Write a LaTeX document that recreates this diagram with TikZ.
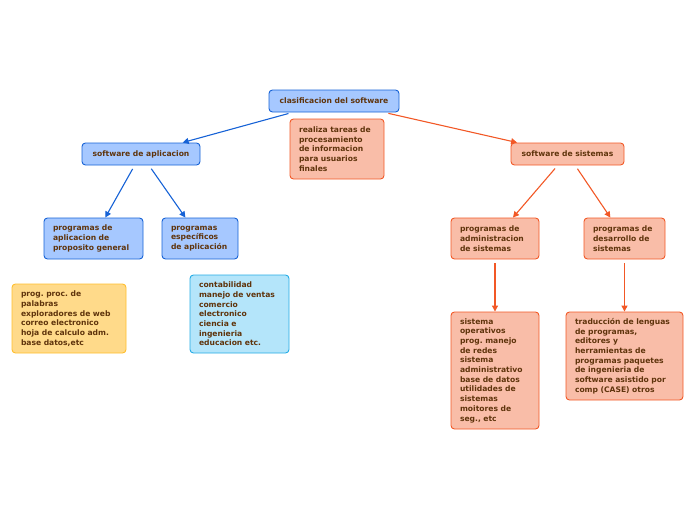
\documentclass[tikz,border=0pt]{standalone}
\usepackage{fontspec}
\setmainfont{DejaVu Sans}
\usetikzlibrary{graphs,arrows.meta}
\definecolor{inkbrown}{RGB}{95,52,12}
\definecolor{bluefill}{RGB}{166,200,255}
\definecolor{blueline}{RGB}{22,98,214}
\definecolor{redfill}{RGB}{249,189,168}
\definecolor{redline}{RGB}{242,88,38}
\definecolor{yellowfill}{RGB}{255,218,138}
\definecolor{yellowline}{RGB}{255,190,45}
\definecolor{cyanfill}{RGB}{180,229,250}
\definecolor{cyanline}{RGB}{36,172,230}
\frenchspacing

\begin{document}
\begin{tikzpicture}[x=1pt,y=-1pt,new set=import nodes,
  box/.style={draw,rounded corners=3.5pt,line width=0.9pt,text=inkbrown,
    font=\fontsize{7.6}{9.7}\selectfont\bfseries\frenchspacing,inner xsep=9pt,inner ysep=3pt,align=left},
  bluebox/.style={box,fill=bluefill,draw=blueline},
  redbox/.style={box,fill=redfill,draw=redline},
  yellowbox/.style={box,fill=yellowfill,draw=yellowline},
  cyanbox/.style={box,fill=cyanfill,draw=cyanline},
  bluearrow/.style={draw=blueline},
  redarrow/.style={draw=redline}]
\useasboundingbox (0,0) rectangle (696,520);
\begin{scope}[nodes={set=import nodes}] % all nodes go to this set
\node [bluebox,align=center,minimum width=130pt,minimum height=22pt] (root) at (334,101) {clasificacion del software};
\node [redbox,text width=76pt,minimum height=60pt] (note) at (337,149) {realiza tareas de\\procesamiento\\de informacion\\para usuarios\\finales};
\node [bluebox,align=center,minimum width=118pt,minimum height=22pt] (apl) at (141,154) {software de aplicacion};
\node [redbox,align=center,minimum width=113pt,minimum height=22pt] (sis) at (567.5,154) {software de sistemas};
\node [bluebox,text width=81pt,minimum height=41pt] (general) at (93.5,238.5) {programas de\\aplicacion de\\proposito general};
\node [bluebox,text width=58pt,minimum height=41pt] (especif) at (200,238.5) {programas\\específicos\\de aplicación};
\node [yellowbox,text width=96pt,minimum height=69pt] (genlist) at (69,318.5) {prog. proc. de\\palabras\\exploradores de web\\correo electronico\\hoja de calculo adm.\\base datos,etc};
\node [cyanbox,text width=81pt,minimum height=78pt] (esplist) at (239.5,314) {contabilidad\\manejo de ventas\\comercio\\electronico\\ciencia e\\ingenieria\\educacion etc.};
\node [redbox,text width=70pt,minimum height=41pt] (admin) at (495,238.5) {programas de\\administracion\\de sistemas};
\node [redbox,text width=63pt,minimum height=41pt] (desarr) at (624.5,238.5) {programas de\\desarrollo de\\sistemas};
\node [redbox,text width=70pt,minimum height=117pt] (admlist) at (495,370.5) {sistema\\operativos\\prog. manejo\\de redes\\sistema\\administrativo\\base de datos\\utilidades de\\sistemas\\moitores de\\seg., etc};
\node [redbox,text width=99pt,minimum height=88pt] (deslist) at (624.5,356) {traducción de lenguas\\de programas,\\editores y\\herramientas de\\programas paquetes\\de ingenieria de\\software asistido por\\comp (CASE) otros};
\end{scope}
\graph [edges={line width=1.1pt,shorten <=4pt,-{Triangle[length=6pt,width=6pt]}}]
{ (import nodes);
root -> [bluearrow] apl; root -> [redarrow] sis;
apl -> [bluearrow] {general,especif};
sis -> [redarrow] {admin,desarr};
admin -> [redarrow] admlist;
desarr -> [redarrow] deslist;
};
\end{tikzpicture}
\end{document}
